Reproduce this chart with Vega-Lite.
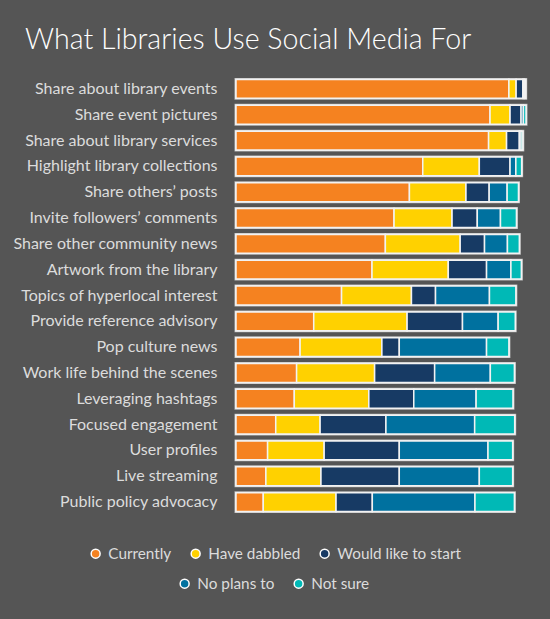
{
  "$schema": "https://vega.github.io/schema/vega-lite/v6.json",
  "width": 290,
  "height": 439,
  "autosize": {"type": "none"},
  "padding": {"left": 236, "top": 76, "right": 24, "bottom": 104},
  "background": "#555555",
  "title": {
    "text": "What Libraries Use Social Media For",
    "anchor": "start",
    "frame": "group",
    "dx": -211,
    "dy": 29,
    "offset": 27,
    "baseline": "alphabetic",
    "font": "Lato",
    "fontWeight": 300,
    "fontSize": 28.6,
    "color": "#ffffff"
  },
  "config": {
    "view": {"stroke": null},
    "font": "Lato"
  },
  "datasets": {
    "statuses": [
      {"status": "Currently", "k": 1},
      {"status": "Have dabbled", "k": 2},
      {"status": "Would like to start", "k": 3},
      {"status": "No plans to", "k": 4},
      {"status": "Not sure", "k": 5}
    ]
  },
  "data": {
    "values": [
      {"use": "Share about library events", "status": "Currently", "pct": 94.1},
      {"use": "Share about library events", "status": "Have dabbled", "pct": 2.5},
      {"use": "Share about library events", "status": "Would like to start", "pct": 2.3},
      {"use": "Share about library events", "status": "No plans to", "pct": 0.5},
      {"use": "Share about library events", "status": "Not sure", "pct": 0.5},
      {"use": "Share event pictures", "status": "Currently", "pct": 87.6},
      {"use": "Share event pictures", "status": "Have dabbled", "pct": 6.9},
      {"use": "Share event pictures", "status": "Would like to start", "pct": 3.8},
      {"use": "Share event pictures", "status": "No plans to", "pct": 0.8},
      {"use": "Share event pictures", "status": "Not sure", "pct": 0.9},
      {"use": "Share about library services", "status": "Currently", "pct": 87.1},
      {"use": "Share about library services", "status": "Have dabbled", "pct": 6.2},
      {"use": "Share about library services", "status": "Would like to start", "pct": 4.4},
      {"use": "Share about library services", "status": "No plans to", "pct": 0.6},
      {"use": "Share about library services", "status": "Not sure", "pct": 0.6},
      {"use": "Highlight library collections", "status": "Currently", "pct": 64.4},
      {"use": "Highlight library collections", "status": "Have dabbled", "pct": 19.5},
      {"use": "Highlight library collections", "status": "Would like to start", "pct": 10.6},
      {"use": "Highlight library collections", "status": "No plans to", "pct": 2.0},
      {"use": "Highlight library collections", "status": "Not sure", "pct": 2.0},
      {"use": "Share others’ posts", "status": "Currently", "pct": 59.8},
      {"use": "Share others’ posts", "status": "Have dabbled", "pct": 19.5},
      {"use": "Share others’ posts", "status": "Would like to start", "pct": 8.0},
      {"use": "Share others’ posts", "status": "No plans to", "pct": 6.2},
      {"use": "Share others’ posts", "status": "Not sure", "pct": 3.9},
      {"use": "Invite followers’ comments", "status": "Currently", "pct": 54.5},
      {"use": "Invite followers’ comments", "status": "Have dabbled", "pct": 20.0},
      {"use": "Invite followers’ comments", "status": "Would like to start", "pct": 8.7},
      {"use": "Invite followers’ comments", "status": "No plans to", "pct": 8.0},
      {"use": "Invite followers’ comments", "status": "Not sure", "pct": 5.5},
      {"use": "Share other community news", "status": "Currently", "pct": 51.5},
      {"use": "Share other community news", "status": "Have dabbled", "pct": 25.8},
      {"use": "Share other community news", "status": "Would like to start", "pct": 8.4},
      {"use": "Share other community news", "status": "No plans to", "pct": 7.9},
      {"use": "Share other community news", "status": "Not sure", "pct": 4.1},
      {"use": "Artwork from the library", "status": "Currently", "pct": 46.9},
      {"use": "Artwork from the library", "status": "Have dabbled", "pct": 26.3},
      {"use": "Artwork from the library", "status": "Would like to start", "pct": 13.2},
      {"use": "Artwork from the library", "status": "No plans to", "pct": 8.4},
      {"use": "Artwork from the library", "status": "Not sure", "pct": 3.6},
      {"use": "Topics of hyperlocal interest", "status": "Currently", "pct": 36.4},
      {"use": "Topics of hyperlocal interest", "status": "Have dabbled", "pct": 24.1},
      {"use": "Topics of hyperlocal interest", "status": "Would like to start", "pct": 8.3},
      {"use": "Topics of hyperlocal interest", "status": "No plans to", "pct": 18.6},
      {"use": "Topics of hyperlocal interest", "status": "Not sure", "pct": 9.1},
      {"use": "Provide reference advisory", "status": "Currently", "pct": 26.8},
      {"use": "Provide reference advisory", "status": "Have dabbled", "pct": 32.2},
      {"use": "Provide reference advisory", "status": "Would like to start", "pct": 19.1},
      {"use": "Provide reference advisory", "status": "No plans to", "pct": 12.3},
      {"use": "Provide reference advisory", "status": "Not sure", "pct": 5.9},
      {"use": "Pop culture news", "status": "Currently", "pct": 22.1},
      {"use": "Pop culture news", "status": "Have dabbled", "pct": 28.2},
      {"use": "Pop culture news", "status": "Would like to start", "pct": 6.0},
      {"use": "Pop culture news", "status": "No plans to", "pct": 30.1},
      {"use": "Pop culture news", "status": "Not sure", "pct": 7.7},
      {"use": "Work life behind the scenes", "status": "Currently", "pct": 20.9},
      {"use": "Work life behind the scenes", "status": "Have dabbled", "pct": 26.9},
      {"use": "Work life behind the scenes", "status": "Would like to start", "pct": 20.7},
      {"use": "Work life behind the scenes", "status": "No plans to", "pct": 19.2},
      {"use": "Work life behind the scenes", "status": "Not sure", "pct": 8.3},
      {"use": "Leveraging hashtags", "status": "Currently", "pct": 20.1},
      {"use": "Leveraging hashtags", "status": "Have dabbled", "pct": 25.7},
      {"use": "Leveraging hashtags", "status": "Would like to start", "pct": 15.5},
      {"use": "Leveraging hashtags", "status": "No plans to", "pct": 21.5},
      {"use": "Leveraging hashtags", "status": "Not sure", "pct": 12.7},
      {"use": "Focused engagement", "status": "Currently", "pct": 13.7},
      {"use": "Focused engagement", "status": "Have dabbled", "pct": 15.3},
      {"use": "Focused engagement", "status": "Would like to start", "pct": 22.7},
      {"use": "Focused engagement", "status": "No plans to", "pct": 30.6},
      {"use": "Focused engagement", "status": "Not sure", "pct": 13.8},
      {"use": "User profiles", "status": "Currently", "pct": 10.9},
      {"use": "User profiles", "status": "Have dabbled", "pct": 19.5},
      {"use": "User profiles", "status": "Would like to start", "pct": 25.9},
      {"use": "User profiles", "status": "No plans to", "pct": 30.6},
      {"use": "User profiles", "status": "Not sure", "pct": 8.5},
      {"use": "Live streaming", "status": "Currently", "pct": 10.3},
      {"use": "Live streaming", "status": "Have dabbled", "pct": 19.0},
      {"use": "Live streaming", "status": "Would like to start", "pct": 27.0},
      {"use": "Live streaming", "status": "No plans to", "pct": 27.6},
      {"use": "Live streaming", "status": "Not sure", "pct": 11.5},
      {"use": "Public policy advocacy", "status": "Currently", "pct": 9.4},
      {"use": "Public policy advocacy", "status": "Have dabbled", "pct": 25.1},
      {"use": "Public policy advocacy", "status": "Would like to start", "pct": 12.5},
      {"use": "Public policy advocacy", "status": "No plans to", "pct": 35.4},
      {"use": "Public policy advocacy", "status": "Not sure", "pct": 13.6}
    ]
  },
  "transform": [
    {"lookup": "status", "from": {"data": {"name": "statuses"}, "key": "status", "fields": ["k"]}}
  ],
  "encoding": {
    "y": {
      "field": "use",
      "type": "nominal",
      "sort": null,
      "title": null,
      "scale": {"paddingInner": 0.27, "paddingOuter": 0.135},
      "axis": {
        "domain": false,
        "ticks": false,
        "labelPadding": 19,
        "labelFont": "Lato",
        "labelFontSize": 16,
        "labelColor": "#dcdcdc",
        "labelLimit": 300
      }
    }
  },
  "layer": [
    {
      "mark": {"type": "bar", "fill": "#555555", "stroke": "#bdbdbd", "strokeWidth": 3, "cornerRadius": 0},
      "encoding": {
        "x": {"aggregate": "sum", "field": "pct", "type": "quantitative", "scale": {"domain": [0, 100], "nice": false}, "axis": null}
      }
    },
    {
      "mark": {"type": "bar", "stroke": "#f2f2f2", "strokeWidth": 1.5},
      "encoding": {
        "x": {"field": "pct", "type": "quantitative", "stack": "zero", "axis": null},
        "order": {"field": "k", "type": "quantitative", "sort": "ascending"},
        "color": {
          "field": "status",
          "type": "nominal",
          "scale": {
            "domain": ["Currently", "Have dabbled", "Would like to start", "No plans to", "Not sure"],
            "range": ["#f58220", "#ffd100", "#173a64", "#00719f", "#00b9b6"]
          },
          "legend": {
            "values": ["Currently", "Have dabbled", "Would like to start"],
            "title": null,
            "orient": "none",
            "direction": "horizontal",
            "legendX": -148,
            "legendY": 470,
            "padding": 0,
            "symbolType": "circle",
            "symbolSize": 80,
            "symbolStrokeColor": "#ffffff",
            "symbolStrokeWidth": 1.5,
            "symbolOpacity": 1,
            "labelFont": "Lato",
            "labelFontSize": 15.3,
            "labelColor": "#dcdcdc",
            "labelOffset": 5,
            "columnPadding": 16,
            "labelLimit": 300
          }
        }
      }
    },
    {
      "mark": {"type": "bar", "stroke": "#f2f2f2", "strokeWidth": 1.5},
      "encoding": {
        "x": {"field": "pct", "type": "quantitative", "stack": "zero", "axis": null},
        "order": {"field": "k", "type": "quantitative", "sort": "ascending"},
        "color": {
          "field": "status",
          "type": "nominal",
          "legend": {
            "values": ["No plans to", "Not sure"],
            "title": null,
            "orient": "none",
            "direction": "horizontal",
            "legendX": -59,
            "legendY": 500,
            "padding": 0,
            "symbolType": "circle",
            "symbolSize": 80,
            "symbolStrokeColor": "#ffffff",
            "symbolStrokeWidth": 1.5,
            "symbolOpacity": 1,
            "labelFont": "Lato",
            "labelFontSize": 15.3,
            "labelColor": "#dcdcdc",
            "labelOffset": 5,
            "columnPadding": 16,
            "labelLimit": 300
          }
        }
      }
    }
  ],
  "resolve": {"legend": {"color": "independent"}}
}
